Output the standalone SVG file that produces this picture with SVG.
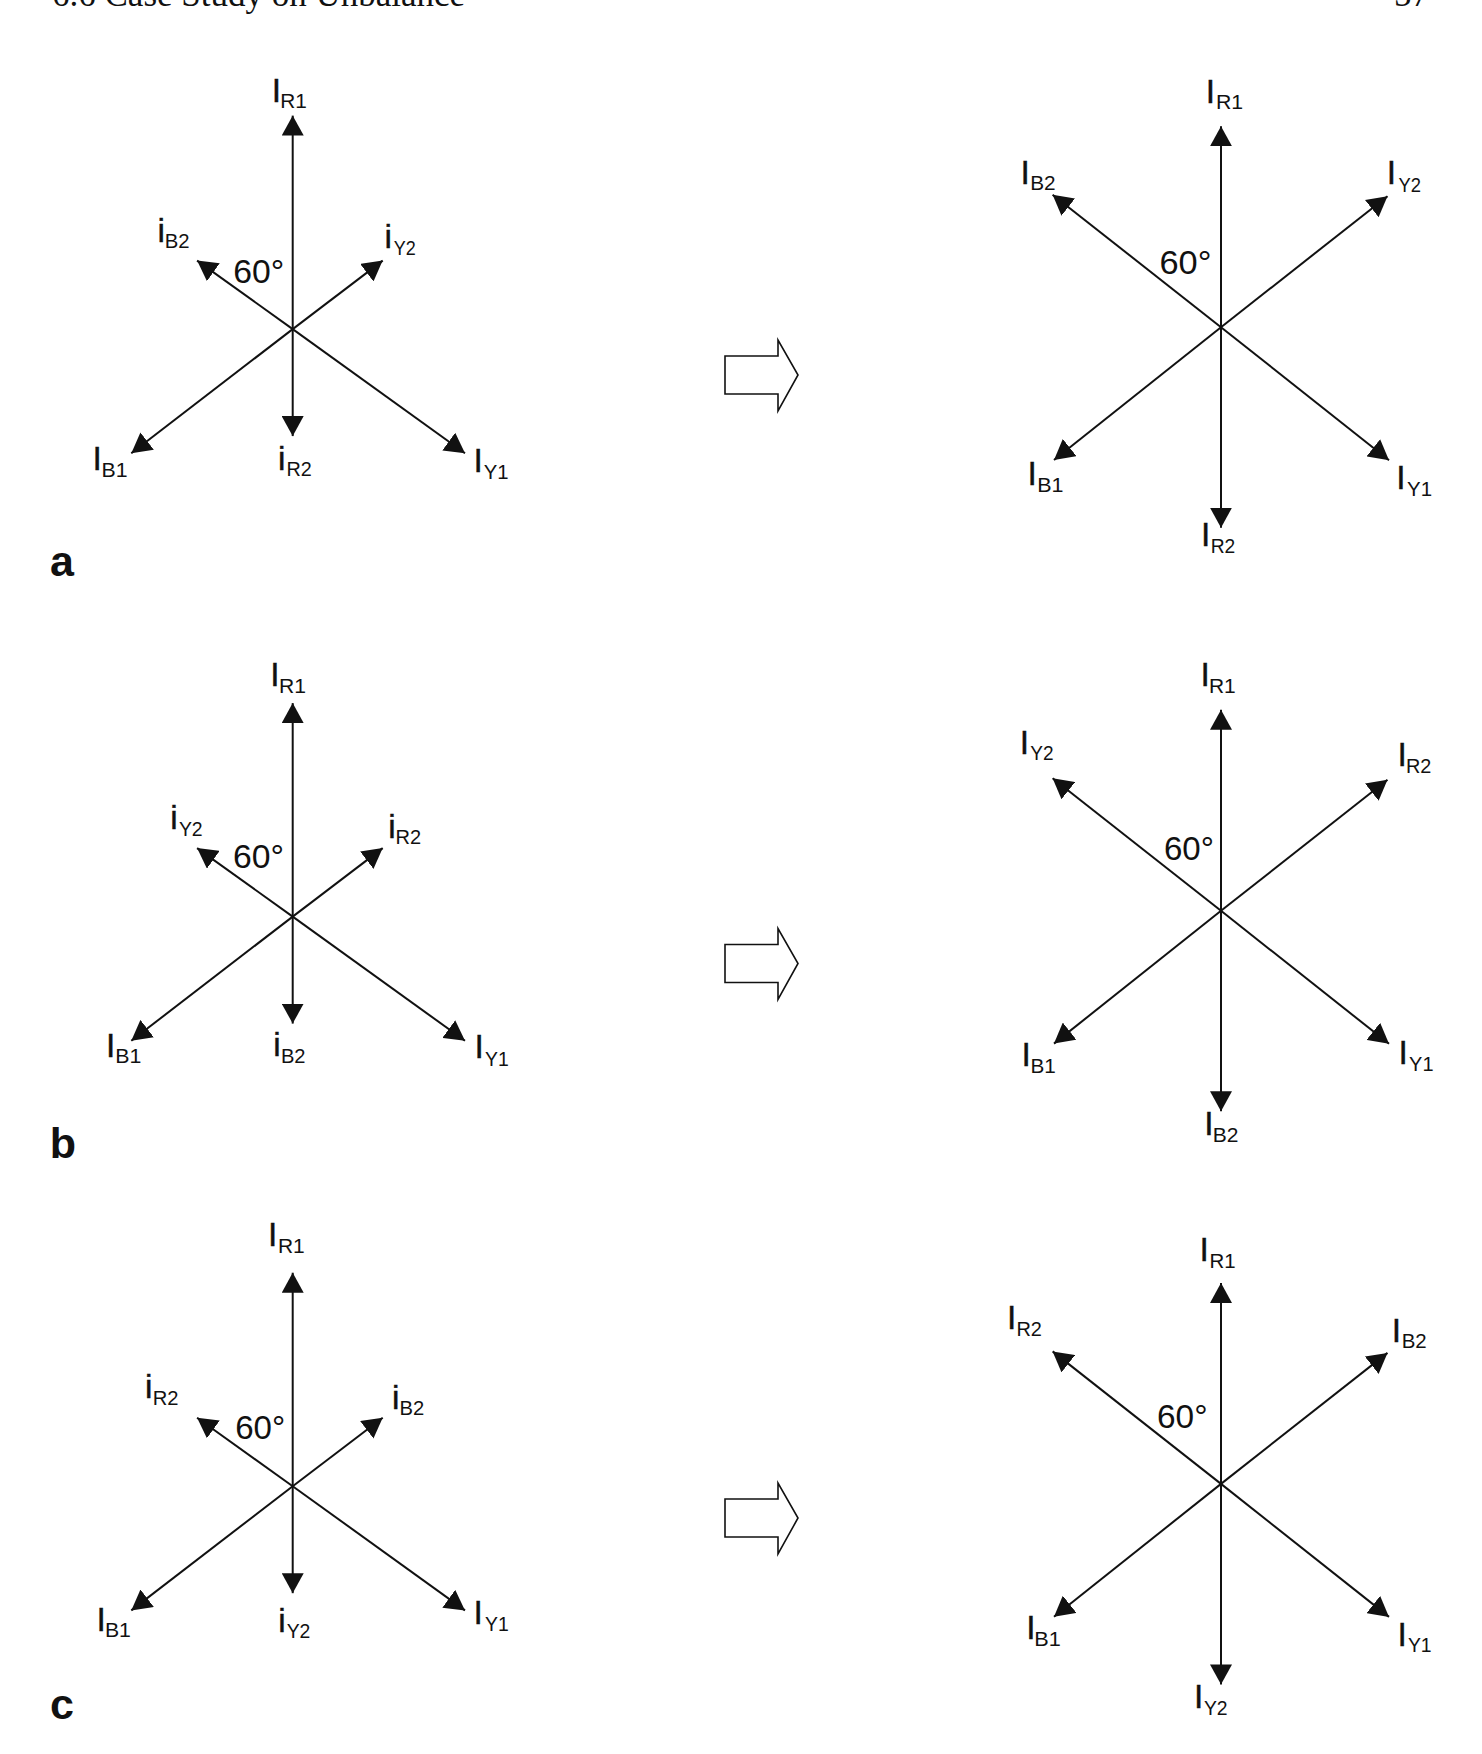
<svg xmlns="http://www.w3.org/2000/svg" width="1482" height="1754" viewBox="0 0 1482 1754">
<style>
text{font-family:"Liberation Sans",Arial,Helvetica,sans-serif;fill:#111}
.m{font-size:33.5px;stroke:#111;stroke-width:0.4}
.s{font-size:21px}
.deg{font-size:34px}
.lab{font-size:43px;font-weight:bold}
.hdr{font-family:"Liberation Serif","Times New Roman",serif;font-size:35px}
.v{stroke:#111;stroke-width:2;fill:none;marker-end:url(#ah)}
.hollow{fill:#fff;stroke:#111;stroke-width:1.6;stroke-linejoin:miter}
</style>
<defs>
<marker id="ah" viewBox="0 0 20 22" refX="20" refY="11" markerWidth="20" markerHeight="22" markerUnits="userSpaceOnUse" orient="auto">
<path d="M0,0 L20,11 L0,22 Z" fill="#111"/>
</marker>
</defs>
<rect width="1482" height="1754" fill="#fff"/>

<g id="header">
<text class="hdr" x="52" y="6">6.6 Case Study on Unbalance</text>
<text class="hdr" x="1429" y="6" text-anchor="end">57</text>
</g>

<g id="connectors">
<!-- a left -->
<line class="v" x1="292.7" y1="329.1" x2="292.7" y2="115.6"/>
<line class="v" x1="292.7" y1="329.1" x2="292.7" y2="436.1"/>
<line class="v" x1="292.7" y1="329.1" x2="197.1" y2="260.6"/>
<line class="v" x1="292.7" y1="329.1" x2="382.7" y2="260.6"/>
<line class="v" x1="292.7" y1="329.1" x2="131.3" y2="453.3"/>
<line class="v" x1="292.7" y1="329.1" x2="465" y2="453.3"/>
<!-- b left -->
<line class="v" x1="292.7" y1="916.6" x2="292.7" y2="703.1"/>
<line class="v" x1="292.7" y1="916.6" x2="292.7" y2="1023.6"/>
<line class="v" x1="292.7" y1="916.6" x2="197.1" y2="848.1"/>
<line class="v" x1="292.7" y1="916.6" x2="382.7" y2="848.1"/>
<line class="v" x1="292.7" y1="916.6" x2="131.3" y2="1040.8"/>
<line class="v" x1="292.7" y1="916.6" x2="465" y2="1040.8"/>
<!-- c left -->
<line class="v" x1="292.7" y1="1486.2" x2="292.7" y2="1272.7"/>
<line class="v" x1="292.7" y1="1486.2" x2="292.7" y2="1593.2"/>
<line class="v" x1="292.7" y1="1486.2" x2="197.1" y2="1417.7"/>
<line class="v" x1="292.7" y1="1486.2" x2="382.7" y2="1417.7"/>
<line class="v" x1="292.7" y1="1486.2" x2="131.3" y2="1610.4"/>
<line class="v" x1="292.7" y1="1486.2" x2="465" y2="1610.4"/>
<!-- a right -->
<line class="v" x1="1221" y1="327.2" x2="1221" y2="126.2"/>
<line class="v" x1="1221" y1="327.2" x2="1221" y2="527.7"/>
<line class="v" x1="1221" y1="327.2" x2="1052.6" y2="194.7"/>
<line class="v" x1="1221" y1="327.2" x2="1387.5" y2="196.2"/>
<line class="v" x1="1221" y1="327.2" x2="1054" y2="460"/>
<line class="v" x1="1221" y1="327.2" x2="1389" y2="460.2"/>
<!-- b right -->
<line class="v" x1="1221" y1="910.8" x2="1221" y2="709.8"/>
<line class="v" x1="1221" y1="910.8" x2="1221" y2="1111.3"/>
<line class="v" x1="1221" y1="910.8" x2="1052.6" y2="778.3"/>
<line class="v" x1="1221" y1="910.8" x2="1387.5" y2="779.8"/>
<line class="v" x1="1221" y1="910.8" x2="1054" y2="1043.6"/>
<line class="v" x1="1221" y1="910.8" x2="1389" y2="1043.8"/>
<!-- c right -->
<line class="v" x1="1221" y1="1483.9" x2="1221" y2="1282.9"/>
<line class="v" x1="1221" y1="1483.9" x2="1221" y2="1684.4"/>
<line class="v" x1="1221" y1="1483.9" x2="1052.6" y2="1351.4"/>
<line class="v" x1="1221" y1="1483.9" x2="1387.5" y2="1352.9"/>
<line class="v" x1="1221" y1="1483.9" x2="1054" y2="1616.7"/>
<line class="v" x1="1221" y1="1483.9" x2="1389" y2="1616.9"/>
<!-- hollow transform arrows -->
<path class="hollow" d="M725,356 H778 V340 L798,375 L778,411 V394 H725 Z"/>
<path class="hollow" d="M725,944.5 H778 V928.5 L798,963.5 L778,999.5 V982.5 H725 Z"/>
<path class="hollow" d="M725,1499 H778 V1483 L798,1518 L778,1554 V1537 H725 Z"/>
</g>

<!-- Row a, left -->
<g id="a-left">
<g id="a-left-IR1"><text class="m" x="271.7" y="102">I</text><text class="s" x="280.2" y="108.3" textLength="26.6" lengthAdjust="spacingAndGlyphs">R1</text></g>
<g id="a-left-iB2"><text class="m" x="157.5" y="241.5">i</text><text class="s" x="164.8" y="248.3" textLength="24.8" lengthAdjust="spacingAndGlyphs">B2</text></g>
<g id="a-left-iY2"><text class="m" x="384.4" y="247.5">i</text><text class="s" x="393.8" y="255.3" textLength="22" lengthAdjust="spacingAndGlyphs">Y2</text></g>
<g id="a-left-60"><text class="deg" x="233.2" y="282.5" textLength="51" lengthAdjust="spacingAndGlyphs">60°</text></g>
<g id="a-left-IB1"><text class="m" x="92.4" y="470">I</text><text class="s" x="101.5" y="476.6" textLength="26" lengthAdjust="spacingAndGlyphs">B1</text></g>
<g id="a-left-iR2"><text class="m" x="278" y="470">i</text><text class="s" x="286.5" y="476" textLength="25.3" lengthAdjust="spacingAndGlyphs">R2</text></g>
<g id="a-left-IY1"><text class="m" x="473.5" y="472">I</text><text class="s" x="483.8" y="479.2" textLength="24.8" lengthAdjust="spacingAndGlyphs">Y1</text></g>
</g>
<g id="label-a"><text class="lab" x="50" y="576">a</text></g>

<!-- Row a, right -->
<g id="a-right">
<g id="a-right-IR1"><text class="m" x="1205.8" y="102.8">I</text><text class="s" x="1215.9" y="108.8" textLength="27.2" lengthAdjust="spacingAndGlyphs">R1</text></g>
<g id="a-right-IB2"><text class="m" x="1020.5" y="183.7">I</text><text class="s" x="1030.2" y="190.2" textLength="25.4" lengthAdjust="spacingAndGlyphs">B2</text></g>
<g id="a-right-IY2"><text class="m" x="1386.8" y="184">I</text><text class="s" x="1398.6" y="192" textLength="22.5" lengthAdjust="spacingAndGlyphs">Y2</text></g>
<g id="a-right-60"><text class="deg" x="1159.4" y="273.6" textLength="52" lengthAdjust="spacingAndGlyphs">60°</text></g>
<g id="a-right-IB1"><text class="m" x="1027.6" y="484.5">I</text><text class="s" x="1037.2" y="491.8" textLength="26.3" lengthAdjust="spacingAndGlyphs">B1</text></g>
<g id="a-right-IY1"><text class="m" x="1396.2" y="489">I</text><text class="s" x="1407.1" y="495.8" textLength="25" lengthAdjust="spacingAndGlyphs">Y1</text></g>
<g id="a-right-IR2"><text class="m" x="1200.9" y="546">I</text><text class="s" x="1210.7" y="553" textLength="24.6" lengthAdjust="spacingAndGlyphs">R2</text></g>
</g>

<!-- Row b, left -->
<g id="b-left">
<g id="b-left-IR1"><text class="m" x="270.2" y="686">I</text><text class="s" x="279" y="692.7" textLength="27" lengthAdjust="spacingAndGlyphs">R1</text></g>
<g id="b-left-iY2"><text class="m" x="170.3" y="828.5">i</text><text class="s" x="178.9" y="835.5" textLength="23.8" lengthAdjust="spacingAndGlyphs">Y2</text></g>
<g id="b-left-iR2"><text class="m" x="388.2" y="838">i</text><text class="s" x="395.5" y="844" textLength="25.6" lengthAdjust="spacingAndGlyphs">R2</text></g>
<g id="b-left-60"><text class="deg" x="232.9" y="868" textLength="51" lengthAdjust="spacingAndGlyphs">60°</text></g>
<g id="b-left-IB1"><text class="m" x="105.9" y="1056.5">I</text><text class="s" x="115.2" y="1063.2" textLength="26.1" lengthAdjust="spacingAndGlyphs">B1</text></g>
<g id="b-left-iB2"><text class="m" x="273.3" y="1056.3">i</text><text class="s" x="280.9" y="1062.5" textLength="24.6" lengthAdjust="spacingAndGlyphs">B2</text></g>
<g id="b-left-IY1"><text class="m" x="474.5" y="1058.2">I</text><text class="s" x="485" y="1065.5" textLength="23.7" lengthAdjust="spacingAndGlyphs">Y1</text></g>
</g>
<g id="label-b"><text class="lab" x="49.7" y="1158">b</text></g>

<!-- Row b, right -->
<g id="b-right">
<g id="b-right-IR1"><text class="m" x="1200.4" y="685.5">I</text><text class="s" x="1208.9" y="692.7" textLength="26.8" lengthAdjust="spacingAndGlyphs">R1</text></g>
<g id="b-right-IY2"><text class="m" x="1019.7" y="753.5">I</text><text class="s" x="1030.2" y="760" textLength="23.3" lengthAdjust="spacingAndGlyphs">Y2</text></g>
<g id="b-right-IR2"><text class="m" x="1397.5" y="766.2">I</text><text class="s" x="1405.9" y="773" textLength="25.4" lengthAdjust="spacingAndGlyphs">R2</text></g>
<g id="b-right-60"><text class="deg" x="1163.9" y="860.3" textLength="50" lengthAdjust="spacingAndGlyphs">60°</text></g>
<g id="b-right-IB1"><text class="m" x="1021.6" y="1065.8">I</text><text class="s" x="1030.5" y="1072.7" textLength="25.3" lengthAdjust="spacingAndGlyphs">B1</text></g>
<g id="b-right-IY1"><text class="m" x="1398.6" y="1064">I</text><text class="s" x="1409.1" y="1070.8" textLength="24.4" lengthAdjust="spacingAndGlyphs">Y1</text></g>
<g id="b-right-IB2"><text class="m" x="1204.2" y="1135">I</text><text class="s" x="1212.7" y="1142.4" textLength="25.7" lengthAdjust="spacingAndGlyphs">B2</text></g>
</g>

<!-- Row c, left -->
<g id="c-left">
<g id="c-left-IR1"><text class="m" x="267.9" y="1246">I</text><text class="s" x="277.9" y="1252.7" textLength="26.8" lengthAdjust="spacingAndGlyphs">R1</text></g>
<g id="c-left-iR2"><text class="m" x="145.1" y="1397.5">i</text><text class="s" x="152.7" y="1404.5" textLength="25.8" lengthAdjust="spacingAndGlyphs">R2</text></g>
<g id="c-left-iB2"><text class="m" x="392" y="1408.5">i</text><text class="s" x="399.5" y="1415.4" textLength="24.7" lengthAdjust="spacingAndGlyphs">B2</text></g>
<g id="c-left-60"><text class="deg" x="235.2" y="1439" textLength="50" lengthAdjust="spacingAndGlyphs">60°</text></g>
<g id="c-left-IB1"><text class="m" x="96.4" y="1630.5">I</text><text class="s" x="104.9" y="1637" textLength="26" lengthAdjust="spacingAndGlyphs">B1</text></g>
<g id="c-left-iY2"><text class="m" x="278.3" y="1632">i</text><text class="s" x="286.7" y="1638" textLength="23.7" lengthAdjust="spacingAndGlyphs">Y2</text></g>
<g id="c-left-IY1"><text class="m" x="473.4" y="1623.5">I</text><text class="s" x="485" y="1630.5" textLength="23.7" lengthAdjust="spacingAndGlyphs">Y1</text></g>
</g>
<g id="label-c"><text class="lab" x="50" y="1719">c</text></g>

<!-- Row c, right -->
<g id="c-right">
<g id="c-right-IR1"><text class="m" x="1199.6" y="1261.2">I</text><text class="s" x="1209.6" y="1267.7" textLength="26.1" lengthAdjust="spacingAndGlyphs">R1</text></g>
<g id="c-right-IR2"><text class="m" x="1007.1" y="1328.5">I</text><text class="s" x="1016.4" y="1335.5" textLength="25.5" lengthAdjust="spacingAndGlyphs">R2</text></g>
<g id="c-right-IB2"><text class="m" x="1391.7" y="1341.5">I</text><text class="s" x="1401.7" y="1348.4" textLength="25" lengthAdjust="spacingAndGlyphs">B2</text></g>
<g id="c-right-60"><text class="deg" x="1157" y="1428.4" textLength="50.5" lengthAdjust="spacingAndGlyphs">60°</text></g>
<g id="c-right-IB1"><text class="m" x="1026.2" y="1638.5">I</text><text class="s" x="1034.3" y="1645.8" textLength="26.5" lengthAdjust="spacingAndGlyphs">B1</text></g>
<g id="c-right-IY1"><text class="m" x="1397.5" y="1645.8">I</text><text class="s" x="1407.9" y="1651.5" textLength="23.7" lengthAdjust="spacingAndGlyphs">Y1</text></g>
<g id="c-right-IY2"><text class="m" x="1193.9" y="1707.5">I</text><text class="s" x="1203.9" y="1715.4" textLength="23.7" lengthAdjust="spacingAndGlyphs">Y2</text></g>
</g>
</svg>
